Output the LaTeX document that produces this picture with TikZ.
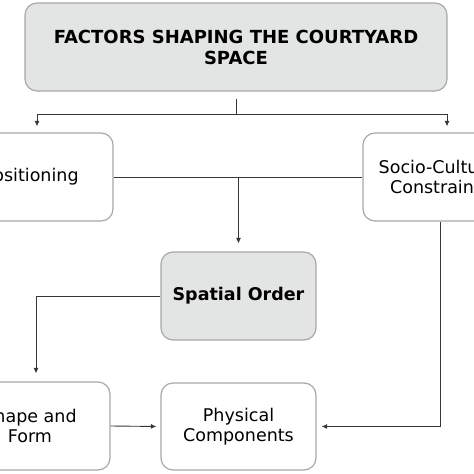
\documentclass[tikz,border=0pt]{standalone}
\definecolor{boxgray}{RGB}{226,229,228}
\definecolor{bordergray}{RGB}{168,168,168}
\definecolor{linegray}{RGB}{55,55,55}
\usepackage{fontspec}
\setmainfont{DejaVu Sans}
\usepackage{tikz}
\usepackage{xcolor}
\usetikzlibrary{shapes,arrows.meta,positioning,calc}

\tikzset{
    factorbox/.style={draw=bordergray, line width=1.2pt, rounded corners=12pt, fill=white,
        minimum width=154pt, minimum height=88pt, align=center, inner sep=2pt,
        font=\fontsize{17.5}{20}\selectfont},
    keybox/.style={factorbox, fill=boxgray, font=\fontsize{17.5}{20}\selectfont\bfseries},
    conn/.style={draw=linegray, line width=0.9pt},
    arr/.style={conn, -{Latex[length=5.5pt,width=5pt]}}
}

\begin{document}
\begin{tikzpicture}[x=1pt,y=-1pt]
                \useasboundingbox (0,0) rectangle (474,474);
                \clip (0,0) rectangle (474,474);

                % Boxes
                \node[keybox, minimum width=422pt, font=\fontsize{18}{21}\selectfont\bfseries] (title) at (236,47) {FACTORS SHAPING THE COURTYARD\\SPACE};
                \node[factorbox, minimum width=164pt] (pos) at (31,177) {Positioning};
                \node[factorbox] (socio) at (440,177) {Socio-Cultural\\Constraints};
                \node[keybox, minimum width=155pt] (spatial) at (238.5,296) {Spatial Order};
                \node[factorbox, minimum width=160pt] (shape) at (30,426) {Shape and\\Form};
                \node[factorbox, minimum width=155pt, minimum height=87pt] (phys) at (238.5,426.5) {Physical\\Components};

                % Connectors
                \coordinate (split) at (236,114);
                \draw[conn, shorten <=7pt] (title.south) -- (split);
                \draw[arr, shorten >=6pt] (split) -| ([xshift=6pt]pos.north);
                \draw[arr, shorten >=6pt] (split) -| ([xshift=7pt]socio.north);
                \draw[conn] (pos) -- (socio);
                \draw[arr, shorten >=8pt] (pos -| spatial) -- (spatial.north);
                \draw[arr, shorten >=8pt] (spatial.west) -| ([xshift=6pt]shape.north);
                \draw[arr, shorten >=4pt] (shape.east) -- (phys.west);
                \draw[arr, shorten >=5pt] (socio.south) |- (phys.east);
            \end{tikzpicture}
\end{document}
